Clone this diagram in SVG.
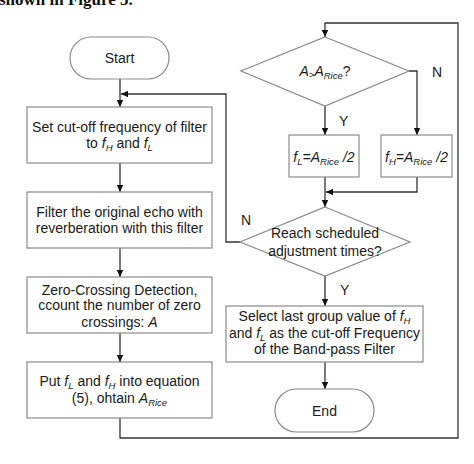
<svg xmlns="http://www.w3.org/2000/svg" width="474" height="464" viewBox="0 0 474 464">
<defs>
<marker id="ah" markerWidth="8" markerHeight="8" refX="7" refY="4" orient="auto" markerUnits="userSpaceOnUse">
<path d="M0,0.8 L7,4 L0,7.2 Z" fill="#111"/>
</marker>
</defs>
<style>
.box{fill:#fff;stroke:#8a8a8a;stroke-width:1.2}
.ln{fill:none;stroke:#333;stroke-width:1.3}
.t{font-family:"Liberation Sans",Arial,sans-serif;font-size:14px;fill:#1a1a1a;text-anchor:middle}
.i{font-style:italic}
.s{font-size:9.5px;font-style:italic}
.lbl{font-family:"Liberation Sans",Arial,sans-serif;font-size:14px;fill:#1a1a1a}
</style>
<rect width="474" height="464" fill="#fff"/>
<text x="-1" y="5" font-family="Liberation Serif,serif" font-weight="bold" font-size="17" fill="#111">shown in Figure 5.</text>

<g id="connectors">
<line class="ln" x1="120" y1="79" x2="120" y2="107" marker-end="url(#ah)"/>
<polyline class="ln" points="240,242 226,242 226,94 121,94" marker-end="url(#ah)"/>
<line class="ln" x1="120" y1="163" x2="120" y2="192" marker-end="url(#ah)"/>
<line class="ln" x1="120" y1="248" x2="120" y2="277" marker-end="url(#ah)"/>
<line class="ln" x1="120" y1="333" x2="120" y2="362" marker-end="url(#ah)"/>
<polyline class="ln" points="120,418 120,438 458,438 458,23 325,23 325,37" marker-end="url(#ah)"/>
<line class="ln" x1="325" y1="106" x2="325" y2="135" marker-end="url(#ah)"/>
<polyline class="ln" points="409,71 417,71 417,135" marker-end="url(#ah)"/>
<line class="ln" x1="325" y1="177" x2="325" y2="207" marker-end="url(#ah)"/>
<polyline class="ln" points="417,177 417,192 326,192" marker-end="url(#ah)"/>
<line class="ln" x1="325" y1="276" x2="325" y2="306" marker-end="url(#ah)"/>
<line class="ln" x1="325" y1="362" x2="325" y2="389" marker-end="url(#ah)"/>
<text class="lbl" x="432" y="77">N</text>
<text class="lbl" x="339" y="126">Y</text>
<text class="lbl" x="241" y="225">N</text>
<text class="lbl" x="340" y="295">Y</text>
</g>

<g id="start">
<rect class="box" x="70" y="37" width="99" height="42" rx="21" ry="21"/>
<text class="t" x="119.5" y="63">Start</text>
</g>

<g id="box1">
<rect class="box" x="27" y="107" width="185" height="56"/>
<text class="t" x="119.5" y="132">Set cut-off frequency of filter</text>
<text class="t" x="119.5" y="148">to <tspan class="i">f</tspan><tspan class="s" dy="2.5">H</tspan><tspan dy="-2.5"> and </tspan><tspan class="i">f</tspan><tspan class="s" dy="2.5">L</tspan></text>
</g>

<g id="box2">
<rect class="box" x="27" y="192" width="185" height="56"/>
<text class="t" x="119.5" y="217">Filter the original echo with</text>
<text class="t" x="119.5" y="233">reverberation with this filter</text>
</g>

<g id="box3">
<rect class="box" x="27" y="277" width="185" height="56"/>
<text class="t" x="119.5" y="295">Zero-Crossing Detection,</text>
<text class="t" x="119.5" y="310">ccount the number of zero</text>
<text class="t" x="119.5" y="327">crossings: <tspan class="i">A</tspan></text>
</g>

<g id="box4">
<rect class="box" x="27" y="362" width="185" height="56"/>
<text class="t" x="119.5" y="386">Put <tspan class="i">f</tspan><tspan class="s" dy="2.5">L</tspan><tspan dy="-2.5"> and </tspan><tspan class="i">f</tspan><tspan class="s" dy="2.5">H</tspan><tspan dy="-2.5"> into equation</tspan></text>
<text class="t" x="119.5" y="403">(5), ohtain <tspan class="i">A</tspan><tspan class="s" dy="2.5">Rice</tspan></text>
</g>

<g id="decision1">
<polygon class="box" points="325,37 409,71 325,106 241,71"/>
<text class="t" x="325" y="76"><tspan class="i">A</tspan><tspan class="s" dy="2">&gt;</tspan><tspan class="i" dy="-2">A</tspan><tspan class="s" dy="3">Rice</tspan><tspan dy="-3">?</tspan></text>
</g>

<g id="setFL">
<rect class="box" x="289" y="135" width="70" height="42"/>
<text class="t" x="324" y="162"><tspan class="i">f</tspan><tspan class="s" dy="3">L</tspan><tspan class="i" dy="-3">=A</tspan><tspan class="s" dy="3">Rice</tspan><tspan class="i" dy="-3"> /2</tspan></text>
</g>

<g id="setFH">
<rect class="box" x="381" y="135" width="71" height="42"/>
<text class="t" x="416.5" y="162"><tspan class="i">f</tspan><tspan class="s" dy="3">H</tspan><tspan class="i" dy="-3">=A</tspan><tspan class="s" dy="3">Rice</tspan><tspan class="i" dy="-3"> /2</tspan></text>
</g>

<g id="decision2">
<polygon class="box" points="325,207 410,242 325,276 240,242"/>
<text class="t" x="325" y="238">Reach scheduled</text>
<text class="t" x="325" y="256">adjustment times?</text>
</g>

<g id="box5">
<rect class="box" x="226" y="306" width="197" height="56"/>
<text class="t" x="324.5" y="321">Select last group value of <tspan class="i">f</tspan><tspan class="s" dy="2.5">H</tspan></text>
<text class="t" x="324.5" y="338">and <tspan class="i">f</tspan><tspan class="s" dy="2.5">L</tspan><tspan dy="-2.5"> as the cut-off Frequency</tspan></text>
<text class="t" x="324.5" y="354">of the Band-pass Filter</text>
</g>

<g id="end">
<rect class="box" x="275" y="389" width="99" height="43" rx="21.5" ry="21.5"/>
<text class="t" x="324.5" y="416">End</text>
</g>
</svg>
